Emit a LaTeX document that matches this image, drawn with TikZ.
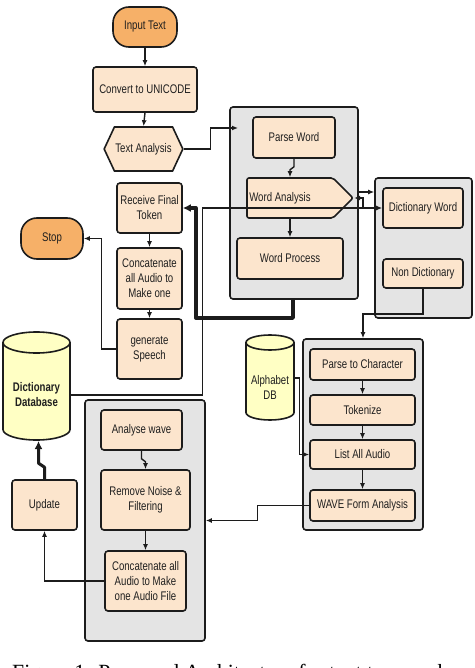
\documentclass[tikz,border=0pt]{standalone}
\usepackage{fontspec}
\setmainfont{Liberation Sans}[FakeStretch=0.77]
\newfontfamily\capfont{Liberation Serif}
\usetikzlibrary{shapes.symbols,shapes.misc,arrows.meta,calc}
\definecolor{peach}{RGB}{252,229,205}
\definecolor{orng}{RGB}{246,176,104}
\definecolor{grpf}{RGB}{228,228,228}
\definecolor{cylf}{RGB}{255,255,196}
\definecolor{edgec}{RGB}{28,28,28}
\tikzset{
  x=1pt, y=-1pt,
  box/.style={draw=edgec, line width=1.6pt, fill=peach, rounded corners=3pt, align=center,
    inner sep=1pt, font=\fontsize{12.5}{15}\selectfont, text=black!88},
  term/.style={box, fill=orng, rounded corners=16pt},
  grp/.style={draw=edgec, line width=1.6pt, fill=grpf, rounded corners=3pt, inner sep=0pt},
  cylst/.style={draw=edgec, line width=1.6pt, fill=cylf},
  lbl/.style={align=center, inner sep=0pt, font=\fontsize{12.5}{15}\selectfont, text=black!88},
  arr/.style={draw=edgec, line width=1.4pt, -{Latex[length=6pt,width=5pt]}},
  tarr/.style={draw=edgec, line width=3.6pt, line join=round, -{Latex[length=8pt,width=8pt]}},
}
\begin{document}
\begin{tikzpicture}
\useasboundingbox (0,0) rectangle (474,668);
\clip (0,0) rectangle (474,668);
\fill[white] (0,0) rectangle (474,668);

% group containers
\node[grp, minimum width=128, minimum height=192] (g1) at (294,203) {};
\node[grp, minimum width=97, minimum height=140] (g2) at (423.5,248) {};
\node[grp, minimum width=120, minimum height=191] (g3) at (363,434.5) {};
\node[grp, minimum width=120, minimum height=241] (g4) at (145,520.5) {};

% top flow
\node[term, minimum width=64, minimum height=40] (in) at (145,27) {Input Text};
\node[box, minimum width=104, minimum height=45] (conv) at (145,89.5) {Convert to UNICODE};
\node[box, signal, signal to=east and west, signal pointer angle=130, rounded corners=0pt,
      minimum width=75, minimum height=44] (ta) at (143.5,149) {Text Analysis};

% group 1
\node[box, minimum width=82, minimum height=41] (pw) at (294,137.5) {Parse Word};
\node[box, signal, signal to=east, signal pointer angle=90, rounded corners=2pt,
      minimum width=106, minimum height=40] (wa) at (290,198) {Word Analysis\hspace*{20pt}};
\node[box, minimum width=106, minimum height=41] (wp) at (290,258.5) {Word Process};

% group 2
\node[box, minimum width=80, minimum height=40] (dw) at (423,208) {Dictionary Word};
\node[box, minimum width=80, minimum height=29] (nd) at (423,273.5) {Non Dictionary};

% left column
\node[term, minimum width=62, minimum height=41] (stop) at (52,238.5) {Stop};
\node[box, minimum width=65, minimum height=50] (rft) at (149.5,208) {Receive Final\\Token};
\node[box, minimum width=65, minimum height=61] (cat) at (149.5,278.5) {Concatenate\\all Audio to\\Make one};
\node[box, minimum width=65, minimum height=60] (gen) at (149.5,349) {generate\\Speech};

% group 3
\node[box, minimum width=105, minimum height=31] (ptc) at (362.5,364.5) {Parse to Character};
\node[box, minimum width=105, minimum height=30] (tok) at (362.5,410) {Tokenize};
\node[box, minimum width=105, minimum height=29] (laa) at (362.5,454.5) {List All Audio};
\node[box, minimum width=105, minimum height=31] (wfa) at (362.5,505.5) {WAVE Form Analysis};

% group 4
\node[box, minimum width=81, minimum height=40] (aw) at (141.5,430) {Analyse wave};
\node[box, minimum width=89, minimum height=60] (rn) at (145.5,500) {Remove Noise \&\\Filtering};
\node[box, minimum width=81, minimum height=60] (cat2) at (145.5,581) {Concatenate all\\Audio to Make\\one Audio File};
\node[box, minimum width=65, minimum height=50] (upd) at (44.5,505) {Update};

% cylinders
\draw[cylst] (3,342.5) -- (3,429.5) arc[start angle=180, end angle=360, x radius=33.5pt, y radius=10.5pt]
  -- (70,342.5) arc[start angle=0, end angle=180, x radius=33.5pt, y radius=10.5pt] -- cycle;
\draw[cylst, fill=none] (3,342.5) arc[start angle=180, end angle=360, x radius=33.5pt, y radius=10.5pt];
\node[lbl, font=\fontsize{12.5}{15}\selectfont\bfseries, minimum width=67] (ddb) at (36.5,395) {Dictionary\\Database};

\draw[cylst] (246,342.5) -- (246,412.5) arc[start angle=180, end angle=360, x radius=24pt, y radius=7.5pt]
  -- (294,342.5) arc[start angle=0, end angle=180, x radius=24pt, y radius=7.5pt] -- cycle;
\draw[cylst, fill=none] (246,342.5) arc[start angle=180, end angle=360, x radius=24pt, y radius=7.5pt];
\node[lbl, minimum width=48] (abd) at (270,387) {Alphabet\\DB};

% helper coordinates
\coordinate (g1in) at (238,128);
\coordinate (y192) at (0,192);
\coordinate (jB) at (363,208);
\coordinate (g1out) at (293,299);
\coordinate (ddbbot) at (38.5,441);

% connectors
\draw[arr] (in.south) -- (conv.north);
\draw[arr] (conv.south) -- (ta.north);
\draw[arr] (ta.east) -- ++(27,0) |- (g1in);
\draw[arr] (pw.south) -- ++(0,8) -- ++(-4,3) -- (wa.north);
\draw[arr] (wa.south) -- (wp.north);
\draw[arr] (g1.east |- y192) -- (g2.west |- y192);
\draw[arr] (ddb.east) -- ++(132,0) |- (dw.west);
\draw[arr] (jB) |- (wa.east);
\draw[tarr] (g1out) -- ++(0,19) -| ([xshift=13pt]rft.east) -- (rft.east);
\draw[arr] (nd.south) -- ++(0,25) -| (g3.north);
\draw[arr] (rft.south) -- (cat.north);
\draw[arr] (cat.south) -- (gen.north);
\draw[arr] (gen.west) -- ++(-15,0) |- (stop.east);
\draw[arr] (ptc.south) -- (tok.north);
\draw[arr] (tok.south) -- (laa.north);
\draw[arr] (laa.south) -- (wfa.north);
\draw[arr] ([yshift=9pt]abd.east) -- ++(5,0) |- (laa.west);
\draw[arr] (wfa.west) -- ++(-52,0) |- (g4.east);
\draw[arr] (aw.south) -- ++(0,8) -- ++(4,3) -- (rn.north);
\draw[arr] (rn.south) -- (cat2.north);
\draw[arr] (cat2.west) -| (upd.south);
\draw[tarr, line width=3pt] (upd.north) -- ++(0,-12) -- ++(-6,-4) -- (ddbbot);

% caption (cut off by the page edge, as in the reference)
\node[anchor=base west, inner sep=0pt, font=\capfont\fontsize{21.7}{26}\selectfont] (cap) at (12,679)
  {Figure 1: Proposed Architecture for text to speech};
\end{tikzpicture}
\end{document}
